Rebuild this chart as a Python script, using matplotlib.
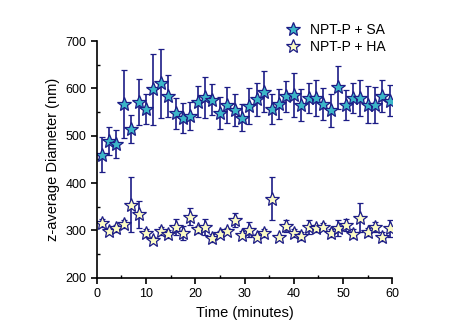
import numpy as np
import matplotlib
matplotlib.use("Agg")
import matplotlib.pyplot as plt
from matplotlib.lines import Line2D

time_min = [1.0 + 1.5 * i for i in range(40)]

sa_mean = [460, 489, 483, 567, 514, 571, 557, 598, 611, 584,
           547, 538, 542, 572, 581, 576, 548, 565, 554, 538,
           562, 577, 593, 556, 567, 583, 586, 565, 579, 579,
           567, 554, 602, 565, 579, 579, 565, 565, 583, 574]
sa_err = [37, 29, 30, 72, 30, 48, 32, 75, 73, 45,
          32, 32, 29, 32, 43, 33, 33, 38, 34, 28,
          38, 35, 44, 32, 32, 33, 47, 33, 32, 38,
          33, 35, 45, 32, 32, 38, 39, 38, 34, 33]

ha_mean = [316, 299, 304, 313, 354, 334, 295, 280, 299, 292,
           307, 295, 329, 302, 307, 284, 293, 299, 322, 291,
           301, 287, 295, 367, 285, 309, 295, 288, 307, 304,
           308, 295, 305, 311, 293, 327, 297, 307, 287, 304]
ha_err = [8, 6, 8, 8, 58, 28, 8, 6, 8, 8,
          16, 15, 18, 8, 16, 8, 6, 6, 14, 8,
          16, 6, 8, 45, 6, 12, 8, 8, 15, 8,
          8, 8, 17, 12, 10, 31, 8, 10, 10, 17]

labels = ["NPT-P + SA", "NPT-P + HA"]

plt.rcParams['font.family'] = ['Liberation Sans', 'DejaVu Sans']

fig = plt.figure(figsize=(4.74, 3.35), dpi=100)
ax = fig.add_axes([0.204, 0.171, 0.6237, 0.7066])

navy = '#1c1c86'
sa_fill = '#3cb6c8'
ha_fill = '#fbfbc4'
ax.errorbar(time_min, sa_mean, yerr=sa_err, fmt='*', color=navy, ecolor=navy,
            elinewidth=1.2, capsize=2.5, capthick=1.2,
            markersize=10, markerfacecolor=sa_fill, markeredgecolor=navy,
            markeredgewidth=0.9)
ax.errorbar(time_min, ha_mean, yerr=ha_err, fmt='*', color=navy, ecolor=navy,
            elinewidth=1.2, capsize=2.5, capthick=1.2,
            markersize=10, markerfacecolor=ha_fill, markeredgecolor=navy,
            markeredgewidth=0.9)

ax.set_xlim(0, 60)
ax.set_ylim(200, 700)
ax.set_xticks(range(0, 61, 10))
ax.set_yticks(range(200, 701, 100))
ax.set_xticks(range(0, 61, 5), minor=True)
ax.set_yticks(range(200, 701, 50), minor=True)
for s in ['top', 'right']:
    ax.spines[s].set_visible(False)
for s in ['left', 'bottom']:
    ax.spines[s].set_linewidth(1.2)
ax.tick_params(which='major', direction='out', length=4, width=1.2, labelsize=9)
ax.tick_params(which='minor', direction='in', length=2.5, width=1.0)
ax.set_xlabel("Time (minutes)", fontsize=10.5)
ax.set_ylabel("z-average Diameter (nm)", fontsize=10.5)

handles = [Line2D([], [], linestyle='none', marker='*', markersize=10,
                  markerfacecolor=f, markeredgecolor=navy, markeredgewidth=0.9)
           for f in (sa_fill, ha_fill)]
leg = ax.legend(handles, labels, loc='upper right', bbox_to_anchor=(1.02, 1.13),
                frameon=False, fontsize=10, handletextpad=0.6, labelspacing=0.2,
                handlelength=1.2)

fig.savefig("out.png", dpi=100)
